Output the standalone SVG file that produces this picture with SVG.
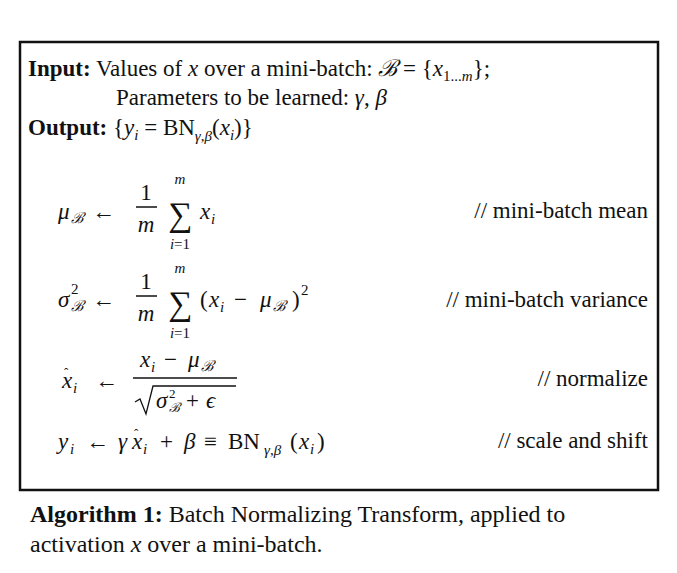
<svg xmlns="http://www.w3.org/2000/svg" width="677" height="573" viewBox="0 0 677 573" font-family="'Liberation Serif', 'DejaVu Serif', serif">
<style>
text{font-family:'Liberation Serif','DejaVu Serif',serif;font-size:23px;fill:#111}
.b{font-weight:bold}
.i{font-style:italic}
.s{font-size:15px}
.ss{font-size:13px}
.r{text-anchor:end}
.c{text-anchor:middle}
line,path{stroke:#111;fill:none}
</style>
<rect width="677" height="573" fill="#fff"/>
<rect x="20" y="42" width="638" height="448" fill="none" stroke="#111" stroke-width="2.5"/>
<g id="header">
<text x="28" y="76"><tspan class="b">Input:</tspan>  Values of <tspan class="i">x</tspan> over a mini-batch: <tspan class="i">ℬ</tspan> = {<tspan class="i">x</tspan><tspan class="s" dy="5">1...<tspan class="i">m</tspan></tspan><tspan dy="-5">};</tspan></text>
<text x="116" y="105">Parameters to be learned: <tspan class="i">γ</tspan>, <tspan class="i">β</tspan></text>
<text x="28" y="135"><tspan class="b">Output:</tspan>  {<tspan class="i">y</tspan><tspan class="s i" dy="5">i</tspan><tspan dy="-5"> = BN</tspan><tspan class="s" dy="6"><tspan class="i">γ</tspan>,<tspan class="i">β</tspan></tspan><tspan dy="-6">(</tspan><tspan class="i">x</tspan><tspan class="s i" dy="5">i</tspan><tspan dy="-5">)}</tspan></text>
</g>
<g id="mean">
<text x="58" y="219" class="i">μ</text><text x="71" y="223" class="s i">ℬ</text><text x="92" y="219">←</text>
<text x="146" y="200" class="c">1</text><line x1="136" y1="207" x2="157" y2="207" stroke-width="1.5"/><text x="146" y="232" class="c i">m</text>
<text x="180" y="226" class="c" style="font-size:34px">∑</text>
<text x="180" y="184" class="c s i">m</text><text x="180" y="249" class="c s"><tspan class="i">i</tspan>=1</text>
<text x="200" y="219" class="i">x</text><text x="211" y="224" class="s i">i</text>
<text x="648" y="218" class="r">// mini-batch mean</text>
</g>
<g id="variance">
<text x="58" y="307" class="i">σ</text><text x="71" y="311" class="s i">ℬ</text><text x="71" y="294" class="s">2</text><text x="92" y="307">←</text>
<text x="146" y="289" class="c">1</text><line x1="136" y1="296" x2="157" y2="296" stroke-width="1.5"/><text x="146" y="321" class="c i">m</text>
<text x="180" y="315" class="c" style="font-size:34px">∑</text>
<text x="180" y="273" class="c s i">m</text><text x="180" y="338" class="c s"><tspan class="i">i</tspan>=1</text>
<text x="200" y="307">(</text><text x="209" y="307" class="i">x</text><text x="220" y="312" class="s i">i</text><text x="234" y="307">−</text><text x="260" y="307" class="i">μ</text><text x="273" y="311" class="s i">ℬ</text><text x="292" y="307">)</text><text x="301" y="295" class="s">2</text>
<text x="648" y="307" class="r">// mini-batch variance</text>
</g>
<g id="normalize">
<text x="62" y="388" class="i">x</text><text x="64" y="377" class="ss">ˆ</text><text x="73" y="393" class="s i">i</text><text x="95" y="388">←</text>
<text x="140" y="367" class="i">x</text><text x="151" y="372" class="s i">i</text><text x="164" y="367">−</text><text x="188" y="367" class="i">μ</text><text x="201" y="371" class="s i">ℬ</text>
<line x1="133" y1="378" x2="237" y2="378" stroke-width="1.5"/>
<path d="M135 402 L140 399 L146 414 L153 386 L236 386" stroke-width="1.3"/>
<text x="156" y="408" class="i">σ</text><text x="169" y="412" class="ss i">ℬ</text><text x="169" y="398" class="ss">2</text><text x="186" y="408">+</text><text x="206" y="408" class="i">ϵ</text>
<text x="648" y="386" class="r">// normalize</text>
</g>
<g id="scale">
<text x="58" y="449" class="i">y</text><text x="70" y="454" class="s i">i</text><text x="86" y="449">←</text>
<text x="118" y="449" class="i">γ</text><text x="132" y="449" class="i">x</text><text x="134" y="438" class="ss">ˆ</text><text x="143" y="454" class="s i">i</text>
<text x="160" y="449">+</text><text x="184" y="449" class="i">β</text><text x="204" y="449">≡</text><text x="228" y="449">BN</text><text x="264" y="455" class="s"><tspan class="i">γ</tspan>,<tspan class="i">β</tspan></text><text x="290" y="449">(</text><text x="299" y="449" class="i">x</text><text x="310" y="454" class="s i">i</text><text x="317" y="449">)</text>
<text x="648" y="448" class="r">// scale and shift</text>
</g>
<g id="caption">
<text x="30" y="522" style="font-size:24px"><tspan class="b">Algorithm 1:</tspan> Batch Normalizing Transform, applied to</text>
<text x="30" y="552" style="font-size:24px">activation <tspan class="i">x</tspan> over a mini-batch.</text>
</g>
</svg>
